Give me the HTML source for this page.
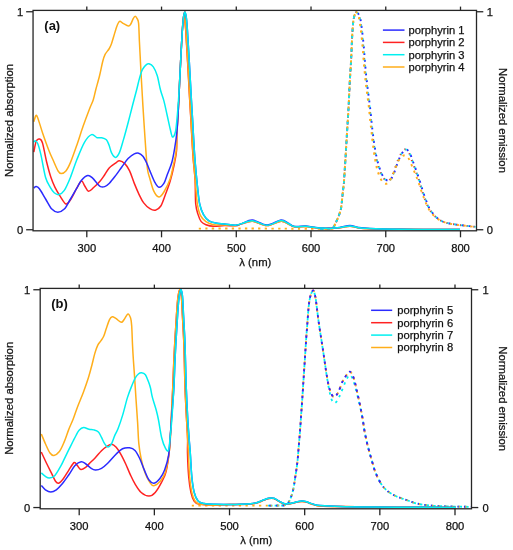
<!DOCTYPE html>
<html><head><meta charset="utf-8"><style>
html,body{margin:0;padding:0;background:#fff;}
svg{display:block;}
.t{font-family:"Liberation Sans",Arial,sans-serif;font-size:11.2px;fill:#111;stroke:#111;stroke-width:0.25px;}
.tt{font-family:"Liberation Sans",Arial,sans-serif;font-size:11.3px;fill:#111;stroke:#111;stroke-width:0.25px;}
.tb{font-family:"Liberation Sans",Arial,sans-serif;font-size:13px;font-weight:bold;fill:#111;}
</style></head><body>
<svg width="513" height="550" viewBox="0 0 513 550">
<defs><clipPath id="c0"><rect x="0.0" y="0.0" width="356.0" height="280.0"/></clipPath><clipPath id="c1"><rect x="0.0" y="0.0" width="356.0" height="280.0"/></clipPath><clipPath id="c2"><rect x="0.0" y="0.0" width="356.0" height="280.0"/></clipPath><clipPath id="c3"><rect x="0.0" y="0.0" width="356.0" height="280.0"/></clipPath><clipPath id="c4"><rect x="356.0" y="0.0" width="157.0" height="280.0"/></clipPath><clipPath id="c5"><rect x="356.0" y="0.0" width="157.0" height="280.0"/></clipPath><clipPath id="c6"><rect x="356.0" y="0.0" width="157.0" height="280.0"/></clipPath><clipPath id="c7"><rect x="356.0" y="0.0" width="157.0" height="280.0"/></clipPath><clipPath id="c8"><rect x="0.0" y="280.0" width="513.0" height="203.0"/></clipPath><clipPath id="c9"><rect x="0.0" y="280.0" width="513.0" height="203.0"/></clipPath><clipPath id="c10"><rect x="0.0" y="280.0" width="513.0" height="203.0"/></clipPath><clipPath id="c11"><rect x="0.0" y="280.0" width="513.0" height="203.0"/></clipPath><clipPath id="c12"><rect x="0.0" y="483.0" width="513.0" height="67.0"/></clipPath><clipPath id="c13"><rect x="0.0" y="483.0" width="513.0" height="67.0"/></clipPath><clipPath id="c14"><rect x="0.0" y="483.0" width="513.0" height="67.0"/></clipPath></defs>
<rect width="513" height="550" fill="#fff"/>
<path d="M318.00,228.70 C320.00,228.70 327.70,228.73 330.00,228.70 C332.30,228.67 331.22,228.73 331.80,228.50 C332.38,228.27 332.75,228.45 333.50,227.30 C334.25,226.15 335.37,223.65 336.30,221.60 C337.23,219.55 338.32,217.20 339.10,215.00 C339.88,212.80 340.50,210.98 341.00,208.40 C341.50,205.82 341.78,202.33 342.10,199.50 C342.42,196.67 342.60,194.18 342.90,191.40 C343.20,188.62 343.62,186.03 343.90,182.80 C344.18,179.57 344.33,176.10 344.60,172.00 C344.87,167.90 345.20,163.03 345.50,158.20 C345.80,153.37 346.10,148.03 346.40,143.00 C346.70,137.97 346.93,134.03 347.30,128.00 C347.67,121.97 348.20,114.23 348.60,106.80 C349.00,99.37 349.28,91.20 349.70,83.40 C350.12,75.60 350.68,67.90 351.10,60.00 C351.52,52.10 351.80,42.67 352.20,36.00 C352.60,29.33 352.87,23.95 353.50,20.00 C354.13,16.05 355.13,12.85 356.00,12.30 C356.87,11.75 357.93,14.02 358.70,16.70 C359.47,19.38 359.97,23.53 360.60,28.40 C361.23,33.27 362.00,40.63 362.50,45.90 C363.00,51.17 363.18,55.05 363.60,60.00 C364.02,64.95 364.47,70.40 365.00,75.60 C365.53,80.80 366.17,86.00 366.80,91.20 C367.43,96.40 368.20,101.60 368.80,106.80 C369.40,112.00 369.93,118.03 370.40,122.40 C370.87,126.77 371.12,129.13 371.60,133.00 C372.08,136.87 372.63,141.42 373.30,145.60 C373.97,149.78 374.70,154.20 375.60,158.10 C376.50,162.00 377.53,165.75 378.70,169.00 C379.87,172.25 381.08,175.65 382.60,177.60 C384.12,179.55 386.23,181.10 387.80,180.70 C389.37,180.30 390.65,177.93 392.00,175.20 C393.35,172.47 394.60,167.67 395.90,164.30 C397.20,160.93 398.38,157.47 399.80,155.00 C401.22,152.53 402.98,149.90 404.40,149.50 C405.82,149.10 407.00,150.40 408.30,152.60 C409.60,154.80 410.90,159.18 412.20,162.70 C413.50,166.22 415.03,170.65 416.10,173.70 C417.17,176.75 417.78,178.45 418.60,181.00 C419.42,183.55 420.18,186.42 421.00,189.00 C421.82,191.58 422.67,194.17 423.50,196.50 C424.33,198.83 425.12,200.92 426.00,203.00 C426.88,205.08 427.42,206.85 428.80,209.00 C430.18,211.15 432.35,213.98 434.30,215.90 C436.25,217.82 438.42,219.33 440.50,220.50 C442.58,221.67 444.20,222.22 446.80,222.90 C449.40,223.58 452.98,224.13 456.10,224.60 C459.22,225.07 462.25,225.32 465.50,225.70 C468.75,226.08 473.92,226.70 475.60,226.90" fill="none" stroke="#2b2bff" stroke-width="1.90" stroke-dasharray="2.0 4.6" stroke-dashoffset="-3.40" clip-path="url(#c0)"/>
<path d="M318.00,228.70 C320.00,228.70 327.70,228.73 330.00,228.70 C332.30,228.67 331.22,228.73 331.80,228.50 C332.38,228.27 332.75,228.45 333.50,227.30 C334.25,226.15 335.37,223.65 336.30,221.60 C337.23,219.55 338.32,217.20 339.10,215.00 C339.88,212.80 340.50,210.98 341.00,208.40 C341.50,205.82 341.78,202.33 342.10,199.50 C342.42,196.67 342.60,194.18 342.90,191.40 C343.20,188.62 343.62,186.03 343.90,182.80 C344.18,179.57 344.33,176.10 344.60,172.00 C344.87,167.90 345.20,163.03 345.50,158.20 C345.80,153.37 346.10,148.03 346.40,143.00 C346.70,137.97 346.93,134.03 347.30,128.00 C347.67,121.97 348.20,114.23 348.60,106.80 C349.00,99.37 349.28,91.20 349.70,83.40 C350.12,75.60 350.68,67.90 351.10,60.00 C351.52,52.10 351.80,42.67 352.20,36.00 C352.60,29.33 352.87,23.95 353.50,20.00 C354.13,16.05 355.13,12.85 356.00,12.30 C356.87,11.75 357.93,14.02 358.70,16.70 C359.47,19.38 359.97,23.53 360.60,28.40 C361.23,33.27 362.00,40.63 362.50,45.90 C363.00,51.17 363.18,55.05 363.60,60.00 C364.02,64.95 364.47,70.40 365.00,75.60 C365.53,80.80 366.17,86.00 366.80,91.20 C367.43,96.40 368.20,101.60 368.80,106.80 C369.40,112.00 369.93,118.03 370.40,122.40 C370.87,126.77 371.12,129.13 371.60,133.00 C372.08,136.87 372.63,141.42 373.30,145.60 C373.97,149.78 374.70,154.20 375.60,158.10 C376.50,162.00 377.53,165.75 378.70,169.00 C379.87,172.25 381.08,175.65 382.60,177.60 C384.12,179.55 386.23,181.10 387.80,180.70 C389.37,180.30 390.65,177.93 392.00,175.20 C393.35,172.47 394.60,167.67 395.90,164.30 C397.20,160.93 398.38,157.47 399.80,155.00 C401.22,152.53 402.98,149.90 404.40,149.50 C405.82,149.10 407.00,150.40 408.30,152.60 C409.60,154.80 410.90,159.18 412.20,162.70 C413.50,166.22 415.03,170.65 416.10,173.70 C417.17,176.75 417.78,178.45 418.60,181.00 C419.42,183.55 420.18,186.42 421.00,189.00 C421.82,191.58 422.67,194.17 423.50,196.50 C424.33,198.83 425.12,200.92 426.00,203.00 C426.88,205.08 427.42,206.85 428.80,209.00 C430.18,211.15 432.35,213.98 434.30,215.90 C436.25,217.82 438.42,219.33 440.50,220.50 C442.58,221.67 444.20,222.22 446.80,222.90 C449.40,223.58 452.98,224.13 456.10,224.60 C459.22,225.07 462.25,225.32 465.50,225.70 C468.75,226.08 473.92,226.70 475.60,226.90" fill="none" stroke="#ff2222" stroke-width="1.90" stroke-dasharray="2.0 4.6" stroke-dashoffset="-1.80" clip-path="url(#c1)"/>
<path d="M318.00,228.70 C320.00,228.70 327.70,228.73 330.00,228.70 C332.30,228.67 331.22,228.73 331.80,228.50 C332.38,228.27 332.75,228.45 333.50,227.30 C334.25,226.15 335.37,223.65 336.30,221.60 C337.23,219.55 338.32,217.20 339.10,215.00 C339.88,212.80 340.50,210.98 341.00,208.40 C341.50,205.82 341.78,202.33 342.10,199.50 C342.42,196.67 342.60,194.18 342.90,191.40 C343.20,188.62 343.62,186.03 343.90,182.80 C344.18,179.57 344.33,176.10 344.60,172.00 C344.87,167.90 345.20,163.03 345.50,158.20 C345.80,153.37 346.10,148.03 346.40,143.00 C346.70,137.97 346.93,134.03 347.30,128.00 C347.67,121.97 348.20,114.23 348.60,106.80 C349.00,99.37 349.28,91.20 349.70,83.40 C350.12,75.60 350.68,67.90 351.10,60.00 C351.52,52.10 351.80,42.67 352.20,36.00 C352.60,29.33 352.87,23.95 353.50,20.00 C354.13,16.05 355.13,12.85 356.00,12.30 C356.87,11.75 357.93,14.02 358.70,16.70 C359.47,19.38 359.97,23.53 360.60,28.40 C361.23,33.27 362.00,40.63 362.50,45.90 C363.00,51.17 363.18,55.05 363.60,60.00 C364.02,64.95 364.47,70.40 365.00,75.60 C365.53,80.80 366.17,86.00 366.80,91.20 C367.43,96.40 368.20,101.60 368.80,106.80 C369.40,112.00 369.93,118.03 370.40,122.40 C370.87,126.77 371.12,129.13 371.60,133.00 C372.08,136.87 372.63,141.42 373.30,145.60 C373.97,149.78 374.70,154.20 375.60,158.10 C376.50,162.00 377.53,165.75 378.70,169.00 C379.87,172.25 381.08,175.65 382.60,177.60 C384.12,179.55 386.23,181.10 387.80,180.70 C389.37,180.30 390.65,177.93 392.00,175.20 C393.35,172.47 394.60,167.67 395.90,164.30 C397.20,160.93 398.38,157.47 399.80,155.00 C401.22,152.53 402.98,149.90 404.40,149.50 C405.82,149.10 407.00,150.40 408.30,152.60 C409.60,154.80 410.90,159.18 412.20,162.70 C413.50,166.22 415.03,170.65 416.10,173.70 C417.17,176.75 417.78,178.45 418.60,181.00 C419.42,183.55 420.18,186.42 421.00,189.00 C421.82,191.58 422.67,194.17 423.50,196.50 C424.33,198.83 425.12,200.92 426.00,203.00 C426.88,205.08 427.42,206.85 428.80,209.00 C430.18,211.15 432.35,213.98 434.30,215.90 C436.25,217.82 438.42,219.33 440.50,220.50 C442.58,221.67 444.20,222.22 446.80,222.90 C449.40,223.58 452.98,224.13 456.10,224.60 C459.22,225.07 462.25,225.32 465.50,225.70 C468.75,226.08 473.92,226.70 475.60,226.90" fill="none" stroke="#00f0f0" stroke-width="1.90" stroke-dasharray="3.8 2.8" stroke-dashoffset="-2.10" clip-path="url(#c2)"/>
<path d="M198.80,228.60 C205.67,228.58 223.13,228.48 240.00,228.50 C256.87,228.52 285.00,228.67 300.00,228.70 C315.00,228.73 324.70,228.73 330.00,228.70 C335.30,228.67 331.22,228.73 331.80,228.50 C332.38,228.27 332.75,228.45 333.50,227.30 C334.25,226.15 335.37,223.65 336.30,221.60 C337.23,219.55 338.32,217.20 339.10,215.00 C339.88,212.80 340.50,210.98 341.00,208.40 C341.50,205.82 341.78,202.33 342.10,199.50 C342.42,196.67 342.60,194.18 342.90,191.40 C343.20,188.62 343.62,186.03 343.90,182.80 C344.18,179.57 344.33,176.10 344.60,172.00 C344.87,167.90 345.20,163.03 345.50,158.20 C345.80,153.37 346.10,148.03 346.40,143.00 C346.70,137.97 346.93,134.03 347.30,128.00 C347.67,121.97 348.20,114.23 348.60,106.80 C349.00,99.37 349.28,91.20 349.70,83.40 C350.12,75.60 350.68,67.90 351.10,60.00 C351.52,52.10 351.80,42.67 352.20,36.00 C352.60,29.33 352.87,23.95 353.50,20.00 C354.13,16.05 355.13,12.85 356.00,12.30 C356.87,11.75 357.93,14.02 358.70,16.70 C359.47,19.38 359.97,23.53 360.60,28.40 C361.23,33.27 362.00,40.63 362.50,45.90 C363.00,51.17 363.18,55.05 363.60,60.00 C364.02,64.95 364.47,70.40 365.00,75.60 C365.53,80.80 366.17,86.00 366.80,91.20 C367.43,96.40 368.20,101.60 368.80,106.80 C369.40,112.00 369.93,118.03 370.40,122.40 C370.87,126.77 371.15,129.07 371.60,133.00 C372.05,136.93 372.53,141.67 373.10,146.00 C373.67,150.33 374.27,154.92 375.00,159.00 C375.73,163.08 376.50,167.08 377.50,170.50 C378.50,173.92 379.67,177.28 381.00,179.50 C382.33,181.72 384.00,183.63 385.50,183.80 C387.00,183.97 388.50,182.72 390.00,180.50 C391.50,178.28 393.00,173.92 394.50,170.50 C396.00,167.08 397.47,162.50 399.00,160.00 C400.53,157.50 402.15,155.83 403.70,155.50 C405.25,155.17 406.88,156.17 408.30,158.00 C409.72,159.83 410.90,163.50 412.20,166.50 C413.50,169.50 415.03,173.33 416.10,176.00 C417.17,178.67 417.78,180.17 418.60,182.50 C419.42,184.83 420.18,187.58 421.00,190.00 C421.82,192.42 422.67,194.78 423.50,197.00 C424.33,199.22 425.12,201.27 426.00,203.30 C426.88,205.33 427.42,207.08 428.80,209.20 C430.18,211.32 432.35,214.10 434.30,216.00 C436.25,217.90 438.42,219.43 440.50,220.60 C442.58,221.77 444.20,222.32 446.80,223.00 C449.40,223.68 452.98,224.23 456.10,224.70 C459.22,225.17 462.25,225.42 465.50,225.80 C468.75,226.18 473.92,226.80 475.60,227.00" fill="none" stroke="#ffae1a" stroke-width="1.90" stroke-dasharray="2.3 4.3" stroke-dashoffset="0.00" clip-path="url(#c3)"/>
<path d="M318.00,228.70 C320.00,228.70 327.70,228.73 330.00,228.70 C332.30,228.67 331.22,228.73 331.80,228.50 C332.38,228.27 332.75,228.45 333.50,227.30 C334.25,226.15 335.37,223.65 336.30,221.60 C337.23,219.55 338.32,217.20 339.10,215.00 C339.88,212.80 340.50,210.98 341.00,208.40 C341.50,205.82 341.78,202.33 342.10,199.50 C342.42,196.67 342.60,194.18 342.90,191.40 C343.20,188.62 343.62,186.03 343.90,182.80 C344.18,179.57 344.33,176.10 344.60,172.00 C344.87,167.90 345.20,163.03 345.50,158.20 C345.80,153.37 346.10,148.03 346.40,143.00 C346.70,137.97 346.93,134.03 347.30,128.00 C347.67,121.97 348.20,114.23 348.60,106.80 C349.00,99.37 349.28,91.20 349.70,83.40 C350.12,75.60 350.68,67.90 351.10,60.00 C351.52,52.10 351.80,42.67 352.20,36.00 C352.60,29.33 352.87,23.95 353.50,20.00 C354.13,16.05 354.96,12.85 356.00,12.30 C357.04,11.75 358.79,14.02 359.76,16.70 C360.72,19.38 361.14,23.53 361.80,28.40 C362.46,33.27 363.20,40.63 363.70,45.90 C364.20,51.17 364.38,55.05 364.80,60.00 C365.22,64.95 365.67,70.40 366.20,75.60 C366.73,80.80 367.37,86.00 368.00,91.20 C368.63,96.40 369.40,101.60 370.00,106.80 C370.60,112.00 371.13,118.03 371.60,122.40 C372.07,126.77 372.32,129.13 372.80,133.00 C373.28,136.87 373.83,141.42 374.50,145.60 C375.17,149.78 375.90,154.20 376.80,158.10 C377.70,162.00 378.73,165.75 379.90,169.00 C381.07,172.25 382.28,175.65 383.80,177.60 C385.32,179.55 387.43,181.10 389.00,180.70 C390.57,180.30 391.85,177.93 393.20,175.20 C394.55,172.47 395.80,167.67 397.10,164.30 C398.40,160.93 399.58,157.47 401.00,155.00 C402.42,152.53 404.18,149.90 405.60,149.50 C407.02,149.10 408.20,150.40 409.50,152.60 C410.80,154.80 412.10,159.18 413.40,162.70 C414.70,166.22 416.23,170.65 417.30,173.70 C418.37,176.75 418.98,178.45 419.80,181.00 C420.62,183.55 421.38,186.42 422.20,189.00 C423.02,191.58 423.88,194.17 424.70,196.50 C425.52,198.83 426.29,200.92 427.14,203.00 C427.99,205.08 428.47,206.85 429.77,209.00 C431.07,211.15 433.11,213.98 434.94,215.90 C436.77,217.82 438.79,219.33 440.77,220.50 C442.75,221.67 444.25,222.22 446.80,222.90 C449.36,223.58 452.98,224.13 456.10,224.60 C459.22,225.07 462.25,225.32 465.50,225.70 C468.75,226.08 473.92,226.70 475.60,226.90" fill="none" stroke="#2b2bff" stroke-width="1.90" stroke-dasharray="2.0 4.8" stroke-dashoffset="-4.30" clip-path="url(#c4)"/>
<path d="M318.00,228.70 C320.00,228.70 327.70,228.73 330.00,228.70 C332.30,228.67 331.22,228.73 331.80,228.50 C332.38,228.27 332.75,228.45 333.50,227.30 C334.25,226.15 335.37,223.65 336.30,221.60 C337.23,219.55 338.32,217.20 339.10,215.00 C339.88,212.80 340.50,210.98 341.00,208.40 C341.50,205.82 341.78,202.33 342.10,199.50 C342.42,196.67 342.60,194.18 342.90,191.40 C343.20,188.62 343.62,186.03 343.90,182.80 C344.18,179.57 344.33,176.10 344.60,172.00 C344.87,167.90 345.20,163.03 345.50,158.20 C345.80,153.37 346.10,148.03 346.40,143.00 C346.70,137.97 346.93,134.03 347.30,128.00 C347.67,121.97 348.20,114.23 348.60,106.80 C349.00,99.37 349.28,91.20 349.70,83.40 C350.12,75.60 350.68,67.90 351.10,60.00 C351.52,52.10 351.80,42.67 352.20,36.00 C352.60,29.33 352.87,23.95 353.50,20.00 C354.13,16.05 355.02,12.85 356.00,12.30 C356.98,11.75 358.50,14.02 359.40,16.70 C360.30,19.38 360.75,23.53 361.40,28.40 C362.05,33.27 362.80,40.63 363.30,45.90 C363.80,51.17 363.98,55.05 364.40,60.00 C364.82,64.95 365.27,70.40 365.80,75.60 C366.33,80.80 366.97,86.00 367.60,91.20 C368.23,96.40 369.00,101.60 369.60,106.80 C370.20,112.00 370.73,118.03 371.20,122.40 C371.67,126.77 371.92,129.13 372.40,133.00 C372.88,136.87 373.43,141.42 374.10,145.60 C374.77,149.78 375.50,154.20 376.40,158.10 C377.30,162.00 378.33,165.75 379.50,169.00 C380.67,172.25 381.88,175.65 383.40,177.60 C384.92,179.55 387.03,181.10 388.60,180.70 C390.17,180.30 391.45,177.93 392.80,175.20 C394.15,172.47 395.40,167.67 396.70,164.30 C398.00,160.93 399.18,157.47 400.60,155.00 C402.02,152.53 403.78,149.90 405.20,149.50 C406.62,149.10 407.80,150.40 409.10,152.60 C410.40,154.80 411.70,159.18 413.00,162.70 C414.30,166.22 415.83,170.65 416.90,173.70 C417.97,176.75 418.58,178.45 419.40,181.00 C420.22,183.55 420.98,186.42 421.80,189.00 C422.62,191.58 423.47,194.17 424.30,196.50 C425.13,198.83 425.90,200.92 426.76,203.00 C427.62,205.08 428.12,206.85 429.45,209.00 C430.78,211.15 432.86,213.98 434.73,215.90 C436.60,217.82 438.67,219.33 440.68,220.50 C442.69,221.67 444.23,222.22 446.80,222.90 C449.37,223.58 452.98,224.13 456.10,224.60 C459.22,225.07 462.25,225.32 465.50,225.70 C468.75,226.08 473.92,226.70 475.60,226.90" fill="none" stroke="#00f0f0" stroke-width="1.90" stroke-dasharray="2.2 4.6" stroke-dashoffset="-2.30" clip-path="url(#c5)"/>
<path d="M318.00,228.70 C320.00,228.70 327.70,228.73 330.00,228.70 C332.30,228.67 331.22,228.73 331.80,228.50 C332.38,228.27 332.75,228.45 333.50,227.30 C334.25,226.15 335.37,223.65 336.30,221.60 C337.23,219.55 338.32,217.20 339.10,215.00 C339.88,212.80 340.50,210.98 341.00,208.40 C341.50,205.82 341.78,202.33 342.10,199.50 C342.42,196.67 342.60,194.18 342.90,191.40 C343.20,188.62 343.62,186.03 343.90,182.80 C344.18,179.57 344.33,176.10 344.60,172.00 C344.87,167.90 345.20,163.03 345.50,158.20 C345.80,153.37 346.10,148.03 346.40,143.00 C346.70,137.97 346.93,134.03 347.30,128.00 C347.67,121.97 348.20,114.23 348.60,106.80 C349.00,99.37 349.28,91.20 349.70,83.40 C350.12,75.60 350.68,67.90 351.10,60.00 C351.52,52.10 351.80,42.67 352.20,36.00 C352.60,29.33 352.87,23.95 353.50,20.00 C354.13,16.05 355.07,12.85 356.00,12.30 C356.93,11.75 358.22,14.02 359.05,16.70 C359.89,19.38 360.36,23.53 361.00,28.40 C361.64,33.27 362.40,40.63 362.90,45.90 C363.40,51.17 363.58,55.05 364.00,60.00 C364.42,64.95 364.87,70.40 365.40,75.60 C365.93,80.80 366.57,86.00 367.20,91.20 C367.83,96.40 368.60,101.60 369.20,106.80 C369.80,112.00 370.33,118.03 370.80,122.40 C371.27,126.77 371.52,129.13 372.00,133.00 C372.48,136.87 373.03,141.42 373.70,145.60 C374.37,149.78 375.10,154.20 376.00,158.10 C376.90,162.00 377.93,165.75 379.10,169.00 C380.27,172.25 381.48,175.65 383.00,177.60 C384.52,179.55 386.63,181.10 388.20,180.70 C389.77,180.30 391.05,177.93 392.40,175.20 C393.75,172.47 395.00,167.67 396.30,164.30 C397.60,160.93 398.78,157.47 400.20,155.00 C401.62,152.53 403.38,149.90 404.80,149.50 C406.22,149.10 407.40,150.40 408.70,152.60 C410.00,154.80 411.30,159.18 412.60,162.70 C413.90,166.22 415.43,170.65 416.50,173.70 C417.57,176.75 418.18,178.45 419.00,181.00 C419.82,183.55 420.58,186.42 421.40,189.00 C422.22,191.58 423.07,194.17 423.90,196.50 C424.73,198.83 425.51,200.92 426.38,203.00 C427.25,205.08 427.77,206.85 429.12,209.00 C430.48,211.15 432.60,213.98 434.51,215.90 C436.43,217.82 438.54,219.33 440.59,220.50 C442.64,221.67 444.22,222.22 446.80,222.90 C449.38,223.58 452.98,224.13 456.10,224.60 C459.22,225.07 462.25,225.32 465.50,225.70 C468.75,226.08 473.92,226.70 475.60,226.90" fill="none" stroke="#ff2222" stroke-width="1.90" stroke-dasharray="0.9 5.9" stroke-dashoffset="-2.20" clip-path="url(#c6)"/>
<path d="M198.80,228.60 C205.67,228.58 223.13,228.48 240.00,228.50 C256.87,228.52 285.00,228.67 300.00,228.70 C315.00,228.73 324.70,228.73 330.00,228.70 C335.30,228.67 331.22,228.73 331.80,228.50 C332.38,228.27 332.75,228.45 333.50,227.30 C334.25,226.15 335.37,223.65 336.30,221.60 C337.23,219.55 338.32,217.20 339.10,215.00 C339.88,212.80 340.50,210.98 341.00,208.40 C341.50,205.82 341.78,202.33 342.10,199.50 C342.42,196.67 342.60,194.18 342.90,191.40 C343.20,188.62 343.62,186.03 343.90,182.80 C344.18,179.57 344.33,176.10 344.60,172.00 C344.87,167.90 345.20,163.03 345.50,158.20 C345.80,153.37 346.10,148.03 346.40,143.00 C346.70,137.97 346.93,134.03 347.30,128.00 C347.67,121.97 348.20,114.23 348.60,106.80 C349.00,99.37 349.28,91.20 349.70,83.40 C350.12,75.60 350.68,67.90 351.10,60.00 C351.52,52.10 351.80,42.67 352.20,36.00 C352.60,29.33 352.87,23.95 353.50,20.00 C354.13,16.05 355.13,12.85 356.00,12.30 C356.87,11.75 357.93,14.02 358.70,16.70 C359.47,19.38 359.97,23.53 360.60,28.40 C361.23,33.27 362.00,40.63 362.50,45.90 C363.00,51.17 363.18,55.05 363.60,60.00 C364.02,64.95 364.47,70.40 365.00,75.60 C365.53,80.80 366.17,86.00 366.80,91.20 C367.43,96.40 368.20,101.60 368.80,106.80 C369.40,112.00 369.93,118.03 370.40,122.40 C370.87,126.77 371.15,129.07 371.60,133.00 C372.05,136.93 372.53,141.67 373.10,146.00 C373.67,150.33 374.27,154.92 375.00,159.00 C375.73,163.08 376.50,167.08 377.50,170.50 C378.50,173.92 379.67,177.28 381.00,179.50 C382.33,181.72 384.00,183.63 385.50,183.80 C387.00,183.97 388.50,182.72 390.00,180.50 C391.50,178.28 393.00,173.92 394.50,170.50 C396.00,167.08 397.47,162.50 399.00,160.00 C400.53,157.50 402.15,155.83 403.70,155.50 C405.25,155.17 406.88,156.17 408.30,158.00 C409.72,159.83 410.90,163.50 412.20,166.50 C413.50,169.50 415.03,173.33 416.10,176.00 C417.17,178.67 417.78,180.17 418.60,182.50 C419.42,184.83 420.18,187.58 421.00,190.00 C421.82,192.42 422.67,194.78 423.50,197.00 C424.33,199.22 425.12,201.27 426.00,203.30 C426.88,205.33 427.42,207.08 428.80,209.20 C430.18,211.32 432.35,214.10 434.30,216.00 C436.25,217.90 438.42,219.43 440.50,220.60 C442.58,221.77 444.20,222.32 446.80,223.00 C449.40,223.68 452.98,224.23 456.10,224.70 C459.22,225.17 462.25,225.42 465.50,225.80 C468.75,226.18 473.92,226.80 475.60,227.00" fill="none" stroke="#ffae1a" stroke-width="1.90" stroke-dasharray="2.3 4.5" stroke-dashoffset="0.00" clip-path="url(#c7)"/>
<path d="M33.80,152.20 C34.20,150.38 35.27,143.50 36.20,141.30 C37.13,139.10 38.35,138.73 39.40,139.00 C40.45,139.27 41.33,139.23 42.50,142.90 C43.67,146.57 45.02,155.32 46.40,161.00 C47.78,166.68 49.37,172.62 50.80,177.00 C52.23,181.38 53.40,184.03 55.00,187.30 C56.60,190.57 58.58,193.82 60.40,196.60 C62.22,199.38 64.22,203.47 65.90,204.00 C67.58,204.53 68.68,202.45 70.50,199.80 C72.32,197.15 74.97,191.23 76.80,188.10 C78.63,184.97 80.20,181.40 81.50,181.00 C82.80,180.60 83.43,184.00 84.60,185.70 C85.77,187.40 86.95,190.93 88.50,191.20 C90.05,191.47 91.95,189.00 93.90,187.30 C95.85,185.60 98.40,183.08 100.20,181.00 C102.00,178.92 103.17,177.00 104.70,174.80 C106.23,172.60 107.58,169.75 109.40,167.80 C111.22,165.85 113.92,164.27 115.60,163.10 C117.28,161.93 117.93,160.67 119.50,160.80 C121.07,160.93 123.32,162.22 125.00,163.90 C126.68,165.58 128.05,167.65 129.60,170.90 C131.15,174.15 132.73,179.50 134.30,183.40 C135.87,187.30 137.43,191.05 139.00,194.30 C140.57,197.55 141.88,200.50 143.70,202.90 C145.52,205.30 147.95,207.48 149.90,208.70 C151.85,209.92 153.58,210.65 155.40,210.20 C157.22,209.75 159.12,208.65 160.80,206.00 C162.48,203.35 163.93,198.47 165.50,194.30 C167.07,190.13 168.78,185.80 170.20,181.00 C171.62,176.20 172.95,170.50 174.00,165.50 C175.05,160.50 176.02,156.58 176.50,151.00 C176.98,145.42 176.67,137.58 176.90,132.00 C177.13,126.42 177.58,122.83 177.90,117.50 C178.22,112.17 178.50,106.25 178.80,100.00 C179.10,93.75 179.40,86.33 179.70,80.00 C180.00,73.67 180.30,67.83 180.60,62.00 C180.90,56.17 181.22,50.17 181.50,45.00 C181.78,39.83 182.02,35.17 182.30,31.00 C182.58,26.83 182.92,22.75 183.20,20.00 C183.48,17.25 183.72,15.85 184.00,14.50 C184.28,13.15 184.69,11.90 184.90,11.90 C185.11,11.90 185.27,13.15 185.27,14.50 C185.27,15.85 184.83,17.42 184.90,20.00 C184.97,22.58 185.42,25.83 185.70,30.00 C185.98,34.17 186.28,39.67 186.60,45.00 C186.92,50.33 187.27,56.17 187.60,62.00 C187.93,67.83 188.25,73.67 188.60,80.00 C188.95,86.33 189.32,93.33 189.70,100.00 C190.08,106.67 190.52,113.33 190.90,120.00 C191.28,126.67 191.60,133.33 192.00,140.00 C192.40,146.67 192.78,153.33 193.30,160.00 C193.82,166.67 194.70,172.72 195.10,180.00 C195.50,187.28 195.20,197.93 195.70,203.70 C196.20,209.47 197.18,211.62 198.10,214.60 C199.02,217.58 199.90,219.92 201.20,221.60 C202.50,223.28 203.82,223.92 205.90,224.70 C207.98,225.48 210.58,226.17 213.70,226.30 C216.82,226.43 220.97,225.58 224.60,225.50 C228.23,225.42 232.65,226.07 235.50,225.80 C238.35,225.53 238.88,224.67 241.70,223.90 C244.52,223.13 248.18,220.92 252.40,221.20 C256.62,221.48 262.23,225.60 267.00,225.60 C271.77,225.60 277.45,221.47 281.00,221.20 C284.55,220.93 286.03,223.07 288.30,224.00 C290.57,224.93 291.72,226.37 294.60,226.80 C297.48,227.23 302.47,226.48 305.60,226.60 C308.73,226.72 310.80,227.22 313.40,227.50 C316.00,227.78 318.35,228.12 321.20,228.30 C324.05,228.48 327.38,228.68 330.50,228.60 C333.62,228.52 336.65,228.20 339.90,227.80 C343.15,227.40 346.88,226.18 350.00,226.20 C353.12,226.22 355.27,227.48 358.60,227.90 C361.93,228.32 363.10,228.47 370.00,228.70 C376.90,228.93 390.00,229.17 400.00,229.30 C410.00,229.43 420.00,229.45 430.00,229.50 C440.00,229.55 455.00,229.58 460.00,229.60" fill="none" stroke="#ff2222" stroke-width="1.50" stroke-linejoin="round"/>
<path d="M33.80,121.80 C34.15,120.77 35.23,116.25 35.90,115.60 C36.57,114.95 36.70,115.05 37.80,117.90 C38.90,120.75 40.68,127.37 42.50,132.70 C44.32,138.03 46.88,145.22 48.70,149.90 C50.52,154.58 51.83,157.28 53.40,160.80 C54.97,164.32 56.80,168.87 58.10,171.00 C59.40,173.13 59.90,173.60 61.20,173.60 C62.50,173.60 64.35,172.87 65.90,171.00 C67.45,169.13 68.68,166.70 70.50,162.40 C72.32,158.10 74.72,151.18 76.80,145.20 C78.88,139.22 80.92,132.47 83.00,126.50 C85.08,120.53 87.60,113.82 89.30,109.40 C91.00,104.98 92.13,103.23 93.20,100.00 C94.27,96.77 94.63,94.08 95.70,90.00 C96.77,85.92 98.43,80.25 99.60,75.50 C100.77,70.75 101.78,65.02 102.70,61.50 C103.62,57.98 104.05,56.48 105.10,54.40 C106.15,52.32 107.97,50.68 109.00,49.00 C110.03,47.32 110.52,46.38 111.30,44.30 C112.08,42.22 112.78,39.48 113.70,36.50 C114.62,33.52 115.82,28.92 116.80,26.40 C117.78,23.88 118.57,21.92 119.60,21.40 C120.63,20.88 121.52,22.52 123.00,23.30 C124.48,24.08 127.20,25.98 128.50,26.10 C129.80,26.22 130.02,25.25 130.80,24.00 C131.58,22.75 132.47,19.90 133.20,18.60 C133.93,17.30 134.55,16.20 135.20,16.20 C135.85,16.20 136.53,17.42 137.10,18.60 C137.67,19.78 138.22,19.53 138.60,23.30 C138.98,27.07 139.13,35.62 139.40,41.20 C139.67,46.78 139.93,51.60 140.20,56.80 C140.47,62.00 140.70,66.87 141.00,72.40 C141.30,77.93 141.68,84.47 142.00,90.00 C142.32,95.53 142.50,99.10 142.90,105.60 C143.30,112.10 143.88,121.20 144.40,129.00 C144.92,136.80 145.47,145.57 146.00,152.40 C146.53,159.23 146.95,165.62 147.60,170.00 C148.25,174.38 148.87,175.17 149.90,178.70 C150.93,182.23 152.30,188.13 153.80,191.20 C155.30,194.27 157.22,196.97 158.90,197.10 C160.58,197.23 162.02,195.07 163.90,192.00 C165.78,188.93 168.63,183.12 170.20,178.70 C171.77,174.28 172.30,170.13 173.30,165.50 C174.30,160.87 175.60,156.48 176.20,150.90 C176.80,145.32 176.62,137.57 176.90,132.00 C177.18,126.43 177.58,122.83 177.90,117.50 C178.22,112.17 178.50,106.25 178.80,100.00 C179.10,93.75 179.40,86.33 179.70,80.00 C180.00,73.67 180.30,67.83 180.60,62.00 C180.90,56.17 181.22,50.17 181.50,45.00 C181.78,39.83 182.02,35.17 182.30,31.00 C182.58,26.83 182.92,22.75 183.20,20.00 C183.48,17.25 183.72,15.85 184.00,14.50 C184.28,13.15 184.68,11.90 184.90,11.90 C185.12,11.90 185.28,13.15 185.30,14.50 C185.32,15.85 184.92,17.42 185.00,20.00 C185.08,22.58 185.52,25.83 185.80,30.00 C186.08,34.17 186.38,39.67 186.70,45.00 C187.02,50.33 187.37,56.17 187.70,62.00 C188.03,67.83 188.35,73.67 188.70,80.00 C189.05,86.33 189.42,93.33 189.80,100.00 C190.18,106.67 190.62,113.33 191.00,120.00 C191.38,126.67 191.70,133.33 192.10,140.00 C192.50,146.67 192.88,153.33 193.40,160.00 C193.92,166.67 194.55,172.72 195.20,180.00 C195.85,187.28 196.43,197.80 197.30,203.70 C198.17,209.60 198.97,212.42 200.40,215.40 C201.83,218.38 203.68,220.05 205.90,221.60 C208.12,223.15 210.58,224.13 213.70,224.70 C216.82,225.27 220.97,224.85 224.60,225.00 C228.23,225.15 232.65,225.80 235.50,225.60 C238.35,225.40 238.88,224.53 241.70,223.80 C244.52,223.07 248.18,220.90 252.40,221.20 C256.62,221.50 262.23,225.60 267.00,225.60 C271.77,225.60 277.45,221.47 281.00,221.20 C284.55,220.93 286.03,223.07 288.30,224.00 C290.57,224.93 291.72,226.37 294.60,226.80 C297.48,227.23 302.47,226.48 305.60,226.60 C308.73,226.72 310.80,227.22 313.40,227.50 C316.00,227.78 318.35,228.12 321.20,228.30 C324.05,228.48 327.38,228.68 330.50,228.60 C333.62,228.52 336.65,228.20 339.90,227.80 C343.15,227.40 346.88,226.18 350.00,226.20 C353.12,226.22 355.27,227.48 358.60,227.90 C361.93,228.32 363.10,228.47 370.00,228.70 C376.90,228.93 390.00,229.17 400.00,229.30 C410.00,229.43 420.00,229.45 430.00,229.50 C440.00,229.55 455.00,229.58 460.00,229.60" fill="none" stroke="#ffae1a" stroke-width="1.50" stroke-linejoin="round"/>
<path d="M33.80,188.00 C34.20,187.75 35.27,186.37 36.20,186.50 C37.13,186.63 37.83,186.72 39.40,188.80 C40.97,190.88 43.53,195.62 45.60,199.00 C47.67,202.38 49.77,206.90 51.80,209.10 C53.83,211.30 55.72,212.20 57.80,212.20 C59.88,212.20 62.18,211.30 64.30,209.10 C66.42,206.90 68.42,202.50 70.50,199.00 C72.58,195.50 74.97,191.22 76.80,188.10 C78.63,184.98 79.68,182.38 81.50,180.30 C83.32,178.22 85.88,176.00 87.70,175.60 C89.52,175.20 90.83,176.60 92.40,177.90 C93.97,179.20 95.75,181.95 97.10,183.40 C98.45,184.85 99.23,186.07 100.50,186.60 C101.77,187.13 103.22,187.17 104.70,186.60 C106.18,186.03 107.58,185.03 109.40,183.20 C111.22,181.37 113.53,178.30 115.60,175.60 C117.67,172.90 119.72,169.83 121.80,167.00 C123.88,164.17 126.02,160.78 128.10,158.60 C130.18,156.42 132.53,154.80 134.30,153.90 C136.07,153.00 137.27,152.80 138.70,153.20 C140.13,153.60 141.55,154.62 142.90,156.30 C144.25,157.98 145.63,160.87 146.80,163.30 C147.97,165.73 148.60,167.82 149.90,170.90 C151.20,173.98 153.10,179.07 154.60,181.80 C156.10,184.53 157.35,187.03 158.90,187.30 C160.45,187.57 162.47,185.62 163.90,183.40 C165.33,181.18 166.18,177.48 167.50,174.00 C168.82,170.52 170.60,166.83 171.80,162.50 C173.00,158.17 173.85,153.08 174.70,148.00 C175.55,142.92 176.37,137.08 176.90,132.00 C177.43,126.92 177.58,122.83 177.90,117.50 C178.22,112.17 178.50,106.25 178.80,100.00 C179.10,93.75 179.40,86.33 179.70,80.00 C180.00,73.67 180.30,67.83 180.60,62.00 C180.90,56.17 181.22,50.17 181.50,45.00 C181.78,39.83 182.02,35.17 182.30,31.00 C182.58,26.83 182.92,22.75 183.20,20.00 C183.48,17.25 183.72,15.85 184.00,14.50 C184.28,13.15 184.60,11.90 184.90,11.90 C185.20,11.90 185.52,13.15 185.80,14.50 C186.08,15.85 186.33,17.42 186.60,20.00 C186.87,22.58 187.12,25.83 187.40,30.00 C187.68,34.17 187.98,39.67 188.30,45.00 C188.62,50.33 188.97,56.17 189.30,62.00 C189.63,67.83 189.95,73.67 190.30,80.00 C190.65,86.33 191.02,93.33 191.40,100.00 C191.78,106.67 192.22,113.33 192.60,120.00 C192.98,126.67 193.30,133.33 193.70,140.00 C194.10,146.67 194.48,153.33 195.00,160.00 C195.52,166.67 196.03,172.72 196.80,180.00 C197.57,187.28 198.48,197.93 199.60,203.70 C200.72,209.47 201.93,211.75 203.50,214.60 C205.07,217.45 206.78,219.37 209.00,220.80 C211.22,222.23 214.20,222.68 216.80,223.20 C219.40,223.72 221.48,223.57 224.60,223.90 C227.72,224.23 232.65,225.25 235.50,225.20 C238.35,225.15 238.88,224.45 241.70,223.60 C244.52,222.75 248.18,219.87 252.40,220.10 C256.62,220.33 262.23,225.03 267.00,225.00 C271.77,224.97 277.45,220.20 281.00,219.90 C284.55,219.60 286.03,222.10 288.30,223.20 C290.57,224.30 291.72,226.02 294.60,226.50 C297.48,226.98 302.47,225.98 305.60,226.10 C308.73,226.22 310.80,226.88 313.40,227.20 C316.00,227.52 318.35,227.82 321.20,228.00 C324.05,228.18 327.38,228.40 330.50,228.30 C333.62,228.20 336.65,227.87 339.90,227.40 C343.15,226.93 346.88,225.48 350.00,225.50 C353.12,225.52 355.27,227.00 358.60,227.50 C361.93,228.00 363.10,228.20 370.00,228.50 C376.90,228.80 390.00,229.13 400.00,229.30 C410.00,229.47 420.00,229.45 430.00,229.50 C440.00,229.55 455.00,229.58 460.00,229.60" fill="none" stroke="#2b2bff" stroke-width="1.50" stroke-linejoin="round"/>
<path d="M33.80,142.10 C34.08,141.90 34.83,140.63 35.50,140.90 C36.17,141.17 36.90,141.42 37.80,143.70 C38.70,145.98 39.60,148.97 40.90,154.60 C42.20,160.23 44.03,172.05 45.60,177.50 C47.17,182.95 48.87,184.77 50.30,187.30 C51.73,189.83 52.77,191.48 54.20,192.70 C55.63,193.92 57.22,194.98 58.90,194.60 C60.58,194.22 62.37,193.30 64.30,190.40 C66.23,187.50 68.42,182.30 70.50,177.20 C72.58,172.10 74.45,165.65 76.80,159.80 C79.15,153.95 82.13,146.30 84.60,142.10 C87.07,137.90 89.52,135.33 91.60,134.60 C93.68,133.87 95.42,137.18 97.10,137.70 C98.78,138.22 100.15,137.35 101.70,137.70 C103.25,138.05 105.18,138.58 106.40,139.80 C107.62,141.02 108.12,142.77 109.00,145.00 C109.88,147.23 110.60,151.13 111.70,153.20 C112.80,155.27 114.30,157.53 115.60,157.40 C116.90,157.27 118.20,155.32 119.50,152.40 C120.80,149.48 121.97,144.85 123.40,139.90 C124.83,134.95 126.55,128.55 128.10,122.70 C129.65,116.85 131.28,110.25 132.70,104.80 C134.12,99.35 135.48,94.37 136.60,90.00 C137.72,85.63 138.42,82.05 139.40,78.60 C140.38,75.15 141.33,71.63 142.50,69.30 C143.67,66.97 145.32,65.52 146.40,64.60 C147.48,63.68 147.85,63.42 149.00,63.80 C150.15,64.18 151.93,64.95 153.30,66.90 C154.67,68.85 156.00,71.65 157.20,75.50 C158.40,79.35 159.38,85.77 160.50,90.00 C161.62,94.23 162.80,96.73 163.90,100.90 C165.00,105.07 166.05,110.32 167.10,115.00 C168.15,119.68 169.30,125.33 170.20,129.00 C171.10,132.67 171.63,136.50 172.50,137.00 C173.37,137.50 174.63,135.25 175.40,132.00 C176.17,128.75 176.58,122.83 177.10,117.50 C177.62,112.17 178.07,106.25 178.50,100.00 C178.93,93.75 179.35,86.33 179.70,80.00 C180.05,73.67 180.30,67.83 180.60,62.00 C180.90,56.17 181.22,50.17 181.50,45.00 C181.78,39.83 182.02,35.17 182.30,31.00 C182.58,26.83 182.92,22.75 183.20,20.00 C183.48,17.25 183.72,15.85 184.00,14.50 C184.28,13.15 184.60,11.90 184.90,11.90 C185.20,11.90 185.52,13.15 185.80,14.50 C186.08,15.85 186.33,17.42 186.60,20.00 C186.87,22.58 187.12,25.83 187.40,30.00 C187.68,34.17 187.98,39.67 188.30,45.00 C188.62,50.33 188.97,56.17 189.30,62.00 C189.63,67.83 189.95,73.67 190.30,80.00 C190.65,86.33 191.02,93.33 191.40,100.00 C191.78,106.67 192.22,113.33 192.60,120.00 C192.98,126.67 193.30,133.33 193.70,140.00 C194.10,146.67 194.48,153.33 195.00,160.00 C195.52,166.67 196.03,172.72 196.80,180.00 C197.57,187.28 198.48,197.93 199.60,203.70 C200.72,209.47 201.93,211.75 203.50,214.60 C205.07,217.45 206.78,219.37 209.00,220.80 C211.22,222.23 214.20,222.68 216.80,223.20 C219.40,223.72 221.48,223.57 224.60,223.90 C227.72,224.23 232.65,225.25 235.50,225.20 C238.35,225.15 238.88,224.35 241.70,223.60 C244.52,222.85 248.18,220.42 252.40,220.70 C256.62,220.98 262.23,225.32 267.00,225.30 C271.77,225.28 277.45,220.90 281.00,220.60 C284.55,220.30 286.03,222.50 288.30,223.50 C290.57,224.50 291.72,226.13 294.60,226.60 C297.48,227.07 302.47,226.18 305.60,226.30 C308.73,226.42 310.80,227.00 313.40,227.30 C316.00,227.60 318.35,227.92 321.20,228.10 C324.05,228.28 327.38,228.48 330.50,228.40 C333.62,228.32 336.65,228.02 339.90,227.60 C343.15,227.18 346.88,225.88 350.00,225.90 C353.12,225.92 355.27,227.25 358.60,227.70 C361.93,228.15 363.10,228.33 370.00,228.60 C376.90,228.87 390.00,229.15 400.00,229.30 C410.00,229.45 420.00,229.45 430.00,229.50 C440.00,229.55 455.00,229.58 460.00,229.60" fill="none" stroke="#00f0f0" stroke-width="1.50" stroke-linejoin="round"/>
<rect x="33.05" y="10.40" width="443.45" height="220.40" fill="none" stroke="#262626" stroke-width="1.3"/>
<line x1="86.80" y1="230.80" x2="86.80" y2="237.30" stroke="#262626" stroke-width="1.3"/>
<line x1="86.80" y1="10.40" x2="86.80" y2="6.60" stroke="#262626" stroke-width="1.3"/>
<text x="86.80" y="251.80" text-anchor="middle" class="t">300</text>
<line x1="161.54" y1="230.80" x2="161.54" y2="237.30" stroke="#262626" stroke-width="1.3"/>
<line x1="161.54" y1="10.40" x2="161.54" y2="6.60" stroke="#262626" stroke-width="1.3"/>
<text x="161.54" y="251.80" text-anchor="middle" class="t">400</text>
<line x1="236.28" y1="230.80" x2="236.28" y2="237.30" stroke="#262626" stroke-width="1.3"/>
<line x1="236.28" y1="10.40" x2="236.28" y2="6.60" stroke="#262626" stroke-width="1.3"/>
<text x="236.28" y="251.80" text-anchor="middle" class="t">500</text>
<line x1="311.02" y1="230.80" x2="311.02" y2="237.30" stroke="#262626" stroke-width="1.3"/>
<line x1="311.02" y1="10.40" x2="311.02" y2="6.60" stroke="#262626" stroke-width="1.3"/>
<text x="311.02" y="251.80" text-anchor="middle" class="t">600</text>
<line x1="385.76" y1="230.80" x2="385.76" y2="237.30" stroke="#262626" stroke-width="1.3"/>
<line x1="385.76" y1="10.40" x2="385.76" y2="6.60" stroke="#262626" stroke-width="1.3"/>
<text x="385.76" y="251.80" text-anchor="middle" class="t">700</text>
<line x1="460.50" y1="230.80" x2="460.50" y2="237.30" stroke="#262626" stroke-width="1.3"/>
<line x1="460.50" y1="10.40" x2="460.50" y2="6.60" stroke="#262626" stroke-width="1.3"/>
<text x="460.50" y="251.80" text-anchor="middle" class="t">800</text>
<line x1="26.15" y1="229.75" x2="33.05" y2="229.75" stroke="#262626" stroke-width="1.3"/>
<line x1="476.50" y1="229.75" x2="483.30" y2="229.75" stroke="#262626" stroke-width="1.3"/>
<text x="23.30" y="233.75" text-anchor="end" class="t">0</text>
<text x="486.80" y="233.75" text-anchor="start" class="t">0</text>
<line x1="26.15" y1="11.75" x2="33.05" y2="11.75" stroke="#262626" stroke-width="1.3"/>
<line x1="476.50" y1="11.75" x2="483.30" y2="11.75" stroke="#262626" stroke-width="1.3"/>
<text x="23.30" y="15.75" text-anchor="end" class="t">1</text>
<text x="486.80" y="15.75" text-anchor="start" class="t">1</text>
<text x="239.30" y="265.50" class="tt">λ (nm)</text>
<text transform="translate(12.60,120.50) rotate(-90)" text-anchor="middle" class="tt">Normalized absorption</text>
<text transform="translate(499.00,120.50) rotate(90)" text-anchor="middle" class="tt">Normalized emission</text>
<text x="44.30" y="30.30" class="tb">(a)</text>
<line x1="382.90" y1="30.10" x2="404.50" y2="30.10" stroke="#2b2bff" stroke-width="1.5"/>
<text x="408.60" y="34.00" class="t">porphyrin 1</text>
<line x1="382.90" y1="42.40" x2="404.50" y2="42.40" stroke="#ff2222" stroke-width="1.5"/>
<text x="408.60" y="46.30" class="t">porphyrin 2</text>
<line x1="382.90" y1="54.70" x2="404.50" y2="54.70" stroke="#00f0f0" stroke-width="1.5"/>
<text x="408.60" y="58.60" class="t">porphyrin 3</text>
<line x1="382.90" y1="67.00" x2="404.50" y2="67.00" stroke="#ffae1a" stroke-width="1.5"/>
<text x="408.60" y="70.90" class="t">porphyrin 4</text>
<path d="M191.80,505.60 C199.83,505.60 227.30,505.60 240.00,505.60 C252.70,505.60 263.33,505.60 268.00,505.60" fill="none" stroke="#ffae1a" stroke-width="1.80" stroke-dasharray="2.3 4.4" stroke-dashoffset="0.00"/>
<path d="M268.00,505.60 C270.00,505.58 277.62,505.52 280.00,505.50 C282.38,505.48 281.47,505.55 282.30,505.50 C283.13,505.45 284.22,505.38 285.00,505.20 C285.78,505.02 286.23,505.18 287.00,504.40 C287.77,503.62 288.78,502.15 289.60,500.50 C290.42,498.85 291.22,496.70 291.90,494.50 C292.58,492.30 293.17,490.02 293.70,487.30 C294.23,484.58 294.63,481.25 295.10,478.20 C295.57,475.15 296.08,472.03 296.50,469.00 C296.92,465.97 297.23,463.70 297.60,460.00 C297.97,456.30 298.30,451.60 298.70,446.80 C299.10,442.00 299.60,436.40 300.00,431.20 C300.40,426.00 300.73,420.80 301.10,415.60 C301.47,410.40 301.80,405.93 302.20,400.00 C302.60,394.07 303.07,386.60 303.50,380.00 C303.93,373.40 304.35,367.30 304.80,360.40 C305.25,353.50 305.77,344.83 306.20,338.60 C306.63,332.37 307.00,328.20 307.40,323.00 C307.80,317.80 308.12,311.82 308.60,307.40 C309.08,302.98 309.55,299.32 310.30,296.50 C311.05,293.68 312.27,290.50 313.10,290.50 C313.93,290.50 314.68,293.68 315.30,296.50 C315.92,299.32 316.22,302.98 316.80,307.40 C317.38,311.82 318.07,317.80 318.80,323.00 C319.53,328.20 320.45,333.72 321.20,338.60 C321.95,343.48 322.70,348.32 323.30,352.30 C323.90,356.28 324.25,358.72 324.80,362.50 C325.35,366.28 325.87,370.42 326.60,375.00 C327.33,379.58 328.37,385.92 329.20,390.00 C330.03,394.08 330.77,397.33 331.60,399.50 C332.43,401.67 333.30,402.75 334.20,403.00 C335.10,403.25 335.95,402.50 337.00,401.00 C338.05,399.50 339.25,396.83 340.50,394.00 C341.75,391.17 343.33,386.75 344.50,384.00 C345.67,381.25 346.62,379.00 347.50,377.50 C348.38,376.00 348.97,374.83 349.80,375.00 C350.63,375.17 351.55,376.33 352.50,378.50 C353.45,380.67 354.38,383.92 355.50,388.00 C356.62,392.08 358.03,398.00 359.20,403.00 C360.37,408.00 361.57,413.08 362.50,418.00 C363.43,422.92 363.90,427.75 364.80,432.50 C365.70,437.25 366.73,441.83 367.90,446.50 C369.07,451.17 370.50,456.08 371.80,460.50 C373.10,464.92 374.13,469.10 375.70,473.00 C377.27,476.90 379.25,480.90 381.20,483.90 C383.15,486.90 385.07,489.02 387.40,491.00 C389.73,492.98 392.60,494.50 395.20,495.80 C397.80,497.10 400.65,497.93 403.00,498.80 C405.35,499.67 407.08,500.23 409.30,501.00 C411.52,501.77 413.67,502.75 416.30,503.40 C418.93,504.05 421.88,504.48 425.10,504.90 C428.32,505.32 432.10,505.65 435.60,505.90 C439.10,506.15 442.00,506.27 446.10,506.40 C450.20,506.53 456.10,506.63 460.20,506.70 C464.30,506.77 468.95,506.78 470.70,506.80" fill="none" stroke="#00f0f0" stroke-width="1.80" stroke-dasharray="2.4 4.3" stroke-dashoffset="-4.30" clip-path="url(#c8)"/>
<path d="M268.00,505.60 C270.00,505.58 277.62,505.52 280.00,505.50 C282.38,505.48 281.47,505.55 282.30,505.50 C283.13,505.45 284.22,505.38 285.00,505.20 C285.78,505.02 286.23,505.18 287.00,504.40 C287.77,503.62 288.78,502.15 289.60,500.50 C290.42,498.85 291.22,496.70 291.90,494.50 C292.58,492.30 293.17,490.02 293.70,487.30 C294.23,484.58 294.63,481.25 295.10,478.20 C295.57,475.15 296.08,472.03 296.50,469.00 C296.92,465.97 297.23,463.70 297.60,460.00 C297.97,456.30 298.30,451.60 298.70,446.80 C299.10,442.00 299.60,436.40 300.00,431.20 C300.40,426.00 300.73,420.80 301.10,415.60 C301.47,410.40 301.80,405.93 302.20,400.00 C302.60,394.07 303.07,386.60 303.50,380.00 C303.93,373.40 304.35,367.30 304.80,360.40 C305.25,353.50 305.77,344.83 306.20,338.60 C306.63,332.37 307.00,328.20 307.40,323.00 C307.80,317.80 308.12,311.82 308.60,307.40 C309.08,302.98 309.55,299.32 310.30,296.50 C311.05,293.68 312.27,290.50 313.10,290.50 C313.93,290.50 314.68,293.68 315.30,296.50 C315.92,299.32 316.22,302.98 316.80,307.40 C317.38,311.82 318.07,317.80 318.80,323.00 C319.53,328.20 320.45,333.72 321.20,338.60 C321.95,343.48 322.70,348.32 323.30,352.30 C323.90,356.28 324.28,358.98 324.80,362.50 C325.32,366.02 325.75,369.50 326.40,373.40 C327.05,377.30 327.93,382.63 328.70,385.90 C329.47,389.17 330.22,391.18 331.00,393.00 C331.78,394.82 332.57,396.38 333.40,396.80 C334.23,397.22 335.13,396.38 336.00,395.50 C336.87,394.62 337.48,393.88 338.60,391.50 C339.72,389.12 341.37,383.95 342.70,381.20 C344.03,378.45 345.35,376.57 346.60,375.00 C347.85,373.43 349.02,371.28 350.20,371.80 C351.38,372.32 352.60,374.98 353.70,378.10 C354.80,381.22 355.77,386.08 356.80,390.50 C357.83,394.92 358.95,400.02 359.90,404.60 C360.85,409.18 361.68,413.35 362.50,418.00 C363.32,422.65 363.90,427.75 364.80,432.50 C365.70,437.25 366.73,441.83 367.90,446.50 C369.07,451.17 370.50,456.08 371.80,460.50 C373.10,464.92 374.13,469.10 375.70,473.00 C377.27,476.90 379.25,480.90 381.20,483.90 C383.15,486.90 385.07,489.02 387.40,491.00 C389.73,492.98 392.60,494.50 395.20,495.80 C397.80,497.10 400.65,497.93 403.00,498.80 C405.35,499.67 407.08,500.23 409.30,501.00 C411.52,501.77 413.67,502.75 416.30,503.40 C418.93,504.05 421.88,504.48 425.10,504.90 C428.32,505.32 432.10,505.65 435.60,505.90 C439.10,506.15 442.00,506.27 446.10,506.40 C450.20,506.53 456.10,506.63 460.20,506.70 C464.30,506.77 468.95,506.78 470.70,506.80" fill="none" stroke="#ff2222" stroke-width="1.80" stroke-dasharray="2.0 4.7" stroke-dashoffset="-0.50" clip-path="url(#c9)"/>
<path d="M268.00,505.60 C270.00,505.58 277.62,505.52 280.00,505.50 C282.38,505.48 281.47,505.55 282.30,505.50 C283.13,505.45 284.22,505.38 285.00,505.20 C285.78,505.02 286.23,505.18 287.00,504.40 C287.77,503.62 288.78,502.15 289.60,500.50 C290.42,498.85 291.22,496.70 291.90,494.50 C292.58,492.30 293.17,490.02 293.70,487.30 C294.23,484.58 294.63,481.25 295.10,478.20 C295.57,475.15 296.08,472.03 296.50,469.00 C296.92,465.97 297.23,463.70 297.60,460.00 C297.97,456.30 298.30,451.60 298.70,446.80 C299.10,442.00 299.60,436.40 300.00,431.20 C300.40,426.00 300.73,420.80 301.10,415.60 C301.47,410.40 301.80,405.93 302.20,400.00 C302.60,394.07 303.07,386.60 303.50,380.00 C303.93,373.40 304.35,367.30 304.80,360.40 C305.25,353.50 305.77,344.83 306.20,338.60 C306.63,332.37 307.00,328.20 307.40,323.00 C307.80,317.80 308.12,311.82 308.60,307.40 C309.08,302.98 309.55,299.32 310.30,296.50 C311.05,293.68 312.27,290.50 313.10,290.50 C313.93,290.50 314.68,293.68 315.30,296.50 C315.92,299.32 316.22,302.98 316.80,307.40 C317.38,311.82 318.07,317.80 318.80,323.00 C319.53,328.20 320.45,333.72 321.20,338.60 C321.95,343.48 322.70,348.32 323.30,352.30 C323.90,356.28 324.28,358.98 324.80,362.50 C325.32,366.02 325.75,369.50 326.40,373.40 C327.05,377.30 327.93,382.63 328.70,385.90 C329.47,389.17 330.22,391.18 331.00,393.00 C331.78,394.82 332.57,396.38 333.40,396.80 C334.23,397.22 335.13,396.38 336.00,395.50 C336.87,394.62 337.48,393.88 338.60,391.50 C339.72,389.12 341.37,383.95 342.70,381.20 C344.03,378.45 345.35,376.57 346.60,375.00 C347.85,373.43 349.02,371.28 350.20,371.80 C351.38,372.32 352.60,374.98 353.70,378.10 C354.80,381.22 355.77,386.08 356.80,390.50 C357.83,394.92 358.95,400.02 359.90,404.60 C360.85,409.18 361.68,413.35 362.50,418.00 C363.32,422.65 363.90,427.75 364.80,432.50 C365.70,437.25 366.73,441.83 367.90,446.50 C369.07,451.17 370.50,456.08 371.80,460.50 C373.10,464.92 374.13,469.10 375.70,473.00 C377.27,476.90 379.25,480.90 381.20,483.90 C383.15,486.90 385.07,489.02 387.40,491.00 C389.73,492.98 392.60,494.50 395.20,495.80 C397.80,497.10 400.65,497.93 403.00,498.80 C405.35,499.67 407.08,500.23 409.30,501.00 C411.52,501.77 413.67,502.75 416.30,503.40 C418.93,504.05 421.88,504.48 425.10,504.90 C428.32,505.32 432.10,505.65 435.60,505.90 C439.10,506.15 442.00,506.27 446.10,506.40 C450.20,506.53 456.10,506.63 460.20,506.70 C464.30,506.77 468.95,506.78 470.70,506.80" fill="none" stroke="#2b2bff" stroke-width="1.80" stroke-dasharray="2.9 3.8" stroke-dashoffset="0.00" clip-path="url(#c10)"/>
<path d="M268.00,505.60 C270.00,505.58 277.62,505.52 280.00,505.50 C282.38,505.48 281.47,505.55 282.30,505.50 C283.13,505.45 284.22,505.38 285.00,505.20 C285.78,505.02 286.23,505.18 287.00,504.40 C287.77,503.62 288.78,502.15 289.60,500.50 C290.42,498.85 291.22,496.70 291.90,494.50 C292.58,492.30 293.17,490.02 293.70,487.30 C294.23,484.58 294.63,481.25 295.10,478.20 C295.57,475.15 296.08,472.03 296.50,469.00 C296.92,465.97 297.23,463.70 297.60,460.00 C297.97,456.30 298.30,451.60 298.70,446.80 C299.10,442.00 299.60,436.40 300.00,431.20 C300.40,426.00 300.73,420.80 301.10,415.60 C301.47,410.40 301.80,405.93 302.20,400.00 C302.60,394.07 303.07,386.60 303.50,380.00 C303.93,373.40 304.35,367.30 304.80,360.40 C305.25,353.50 305.77,344.83 306.20,338.60 C306.63,332.37 307.00,328.20 307.40,323.00 C307.80,317.80 308.12,311.82 308.60,307.40 C309.08,302.98 309.55,299.32 310.30,296.50 C311.05,293.68 312.27,290.50 313.10,290.50 C313.93,290.50 314.68,293.68 315.30,296.50 C315.92,299.32 316.22,302.98 316.80,307.40 C317.38,311.82 318.07,317.80 318.80,323.00 C319.53,328.20 320.45,333.72 321.20,338.60 C321.95,343.48 322.70,348.32 323.30,352.30 C323.90,356.28 324.28,358.98 324.80,362.50 C325.32,366.02 325.75,369.50 326.40,373.40 C327.05,377.30 327.93,382.63 328.70,385.90 C329.47,389.17 330.22,391.18 331.00,393.00 C331.78,394.82 332.57,396.38 333.40,396.80 C334.23,397.22 335.13,396.38 336.00,395.50 C336.87,394.62 337.48,393.88 338.60,391.50 C339.72,389.12 341.37,383.95 342.70,381.20 C344.03,378.45 345.35,376.57 346.60,375.00 C347.85,373.43 349.02,371.28 350.20,371.80 C351.38,372.32 352.60,374.98 353.70,378.10 C354.80,381.22 355.77,386.08 356.80,390.50 C357.83,394.92 358.95,400.02 359.90,404.60 C360.85,409.18 361.68,413.35 362.50,418.00 C363.32,422.65 363.90,427.75 364.80,432.50 C365.70,437.25 366.73,441.83 367.90,446.50 C369.07,451.17 370.50,456.08 371.80,460.50 C373.10,464.92 374.13,469.10 375.70,473.00 C377.27,476.90 379.25,480.90 381.20,483.90 C383.15,486.90 385.07,489.02 387.40,491.00 C389.73,492.98 392.60,494.50 395.20,495.80 C397.80,497.10 400.65,497.93 403.00,498.80 C405.35,499.67 407.08,500.23 409.30,501.00 C411.52,501.77 413.67,502.75 416.30,503.40 C418.93,504.05 421.88,504.48 425.10,504.90 C428.32,505.32 432.10,505.65 435.60,505.90 C439.10,506.15 442.00,506.27 446.10,506.40 C450.20,506.53 456.10,506.63 460.20,506.70 C464.30,506.77 468.95,506.78 470.70,506.80" fill="none" stroke="#ffae1a" stroke-width="1.80" stroke-dasharray="1.1 5.6" stroke-dashoffset="-2.50" clip-path="url(#c11)"/>
<path d="M268.00,505.60 C270.00,505.58 277.62,505.52 280.00,505.50 C282.38,505.48 281.47,505.55 282.30,505.50 C283.13,505.45 284.22,505.38 285.00,505.20 C285.78,505.02 286.23,505.18 287.00,504.40 C287.77,503.62 288.78,502.15 289.60,500.50 C290.42,498.85 291.22,496.70 291.90,494.50 C292.58,492.30 293.17,490.02 293.70,487.30 C294.23,484.58 294.63,481.25 295.10,478.20 C295.57,475.15 296.08,472.03 296.50,469.00 C296.92,465.97 297.23,463.70 297.60,460.00 C297.97,456.30 298.30,451.60 298.70,446.80 C299.10,442.00 299.60,436.40 300.00,431.20 C300.40,426.00 300.73,420.80 301.10,415.60 C301.47,410.40 301.80,405.93 302.20,400.00 C302.60,394.07 303.07,386.60 303.50,380.00 C303.93,373.40 304.35,367.30 304.80,360.40 C305.25,353.50 305.77,344.83 306.20,338.60 C306.63,332.37 307.00,328.20 307.40,323.00 C307.80,317.80 308.12,311.82 308.60,307.40 C309.08,302.98 309.55,299.32 310.30,296.50 C311.05,293.68 312.27,290.50 313.10,290.50 C313.93,290.50 314.68,293.68 315.30,296.50 C315.92,299.32 316.22,302.98 316.80,307.40 C317.38,311.82 318.07,317.80 318.80,323.00 C319.53,328.20 320.45,333.72 321.20,338.60 C321.95,343.48 322.70,348.32 323.30,352.30 C323.90,356.28 324.25,358.72 324.80,362.50 C325.35,366.28 325.87,370.42 326.60,375.00 C327.33,379.58 328.37,385.92 329.20,390.00 C330.03,394.08 330.77,397.33 331.60,399.50 C332.43,401.67 333.30,402.75 334.20,403.00 C335.10,403.25 335.95,402.50 337.00,401.00 C338.05,399.50 339.25,396.83 340.50,394.00 C341.75,391.17 343.33,386.75 344.50,384.00 C345.67,381.25 346.62,379.00 347.50,377.50 C348.38,376.00 348.97,374.83 349.80,375.00 C350.63,375.17 351.55,376.33 352.50,378.50 C353.45,380.67 354.38,383.92 355.50,388.00 C356.62,392.08 358.03,398.00 359.20,403.00 C360.37,408.00 361.57,413.08 362.50,418.00 C363.43,422.92 363.90,427.75 364.80,432.50 C365.70,437.25 366.73,441.83 367.90,446.50 C369.07,451.17 370.50,456.08 371.80,460.50 C373.10,464.92 374.13,469.10 375.70,473.00 C377.27,476.90 379.25,480.90 381.20,483.90 C383.15,486.90 385.07,489.02 387.40,491.00 C389.73,492.98 392.60,494.50 395.20,495.80 C397.80,497.10 400.65,497.93 403.00,498.80 C405.35,499.67 407.08,500.23 409.30,501.00 C411.52,501.77 413.67,502.75 416.30,503.40 C418.93,504.05 421.88,504.48 425.10,504.90 C428.32,505.32 432.10,505.65 435.60,505.90 C439.10,506.15 442.00,506.27 446.10,506.40 C450.20,506.53 456.10,506.63 460.20,506.70 C464.30,506.77 468.95,506.78 470.70,506.80" fill="none" stroke="#00f0f0" stroke-width="1.80" stroke-dasharray="4.6 2.0" stroke-dashoffset="0.00" clip-path="url(#c12)"/>
<path d="M268.00,505.60 C270.00,505.58 277.62,505.52 280.00,505.50 C282.38,505.48 281.47,505.55 282.30,505.50 C283.13,505.45 284.22,505.38 285.00,505.20 C285.78,505.02 286.23,505.18 287.00,504.40 C287.77,503.62 288.78,502.15 289.60,500.50 C290.42,498.85 291.22,496.70 291.90,494.50 C292.58,492.30 293.17,490.02 293.70,487.30 C294.23,484.58 294.63,481.25 295.10,478.20 C295.57,475.15 296.08,472.03 296.50,469.00 C296.92,465.97 297.23,463.70 297.60,460.00 C297.97,456.30 298.30,451.60 298.70,446.80 C299.10,442.00 299.60,436.40 300.00,431.20 C300.40,426.00 300.73,420.80 301.10,415.60 C301.47,410.40 301.80,405.93 302.20,400.00 C302.60,394.07 303.07,386.60 303.50,380.00 C303.93,373.40 304.35,367.30 304.80,360.40 C305.25,353.50 305.77,344.83 306.20,338.60 C306.63,332.37 307.00,328.20 307.40,323.00 C307.80,317.80 308.12,311.82 308.60,307.40 C309.08,302.98 309.55,299.32 310.30,296.50 C311.05,293.68 312.27,290.50 313.10,290.50 C313.93,290.50 314.68,293.68 315.30,296.50 C315.92,299.32 316.22,302.98 316.80,307.40 C317.38,311.82 318.07,317.80 318.80,323.00 C319.53,328.20 320.45,333.72 321.20,338.60 C321.95,343.48 322.70,348.32 323.30,352.30 C323.90,356.28 324.28,358.98 324.80,362.50 C325.32,366.02 325.75,369.50 326.40,373.40 C327.05,377.30 327.93,382.63 328.70,385.90 C329.47,389.17 330.22,391.18 331.00,393.00 C331.78,394.82 332.57,396.38 333.40,396.80 C334.23,397.22 335.13,396.38 336.00,395.50 C336.87,394.62 337.48,393.88 338.60,391.50 C339.72,389.12 341.37,383.95 342.70,381.20 C344.03,378.45 345.35,376.57 346.60,375.00 C347.85,373.43 349.02,371.28 350.20,371.80 C351.38,372.32 352.60,374.98 353.70,378.10 C354.80,381.22 355.77,386.08 356.80,390.50 C357.83,394.92 358.95,400.02 359.90,404.60 C360.85,409.18 361.68,413.35 362.50,418.00 C363.32,422.65 363.90,427.75 364.80,432.50 C365.70,437.25 366.73,441.83 367.90,446.50 C369.07,451.17 370.50,456.08 371.80,460.50 C373.10,464.92 374.13,469.10 375.70,473.00 C377.27,476.90 379.25,480.90 381.20,483.90 C383.15,486.90 385.07,489.02 387.40,491.00 C389.73,492.98 392.60,494.50 395.20,495.80 C397.80,497.10 400.65,497.93 403.00,498.80 C405.35,499.67 407.08,500.23 409.30,501.00 C411.52,501.77 413.67,502.75 416.30,503.40 C418.93,504.05 421.88,504.48 425.10,504.90 C428.32,505.32 432.10,505.65 435.60,505.90 C439.10,506.15 442.00,506.27 446.10,506.40 C450.20,506.53 456.10,506.63 460.20,506.70 C464.30,506.77 468.95,506.78 470.70,506.80" fill="none" stroke="#2b2bff" stroke-width="1.80" stroke-dasharray="1.8 4.8" stroke-dashoffset="-1.40" clip-path="url(#c13)"/>
<path d="M268.00,505.60 C270.00,505.58 277.62,505.52 280.00,505.50 C282.38,505.48 281.47,505.55 282.30,505.50 C283.13,505.45 284.22,505.38 285.00,505.20 C285.78,505.02 286.23,505.18 287.00,504.40 C287.77,503.62 288.78,502.15 289.60,500.50 C290.42,498.85 291.22,496.70 291.90,494.50 C292.58,492.30 293.17,490.02 293.70,487.30 C294.23,484.58 294.63,481.25 295.10,478.20 C295.57,475.15 296.08,472.03 296.50,469.00 C296.92,465.97 297.23,463.70 297.60,460.00 C297.97,456.30 298.30,451.60 298.70,446.80 C299.10,442.00 299.60,436.40 300.00,431.20 C300.40,426.00 300.73,420.80 301.10,415.60 C301.47,410.40 301.80,405.93 302.20,400.00 C302.60,394.07 303.07,386.60 303.50,380.00 C303.93,373.40 304.35,367.30 304.80,360.40 C305.25,353.50 305.77,344.83 306.20,338.60 C306.63,332.37 307.00,328.20 307.40,323.00 C307.80,317.80 308.12,311.82 308.60,307.40 C309.08,302.98 309.55,299.32 310.30,296.50 C311.05,293.68 312.27,290.50 313.10,290.50 C313.93,290.50 314.68,293.68 315.30,296.50 C315.92,299.32 316.22,302.98 316.80,307.40 C317.38,311.82 318.07,317.80 318.80,323.00 C319.53,328.20 320.45,333.72 321.20,338.60 C321.95,343.48 322.70,348.32 323.30,352.30 C323.90,356.28 324.28,358.98 324.80,362.50 C325.32,366.02 325.75,369.50 326.40,373.40 C327.05,377.30 327.93,382.63 328.70,385.90 C329.47,389.17 330.22,391.18 331.00,393.00 C331.78,394.82 332.57,396.38 333.40,396.80 C334.23,397.22 335.13,396.38 336.00,395.50 C336.87,394.62 337.48,393.88 338.60,391.50 C339.72,389.12 341.37,383.95 342.70,381.20 C344.03,378.45 345.35,376.57 346.60,375.00 C347.85,373.43 349.02,371.28 350.20,371.80 C351.38,372.32 352.60,374.98 353.70,378.10 C354.80,381.22 355.77,386.08 356.80,390.50 C357.83,394.92 358.95,400.02 359.90,404.60 C360.85,409.18 361.68,413.35 362.50,418.00 C363.32,422.65 363.90,427.75 364.80,432.50 C365.70,437.25 366.73,441.83 367.90,446.50 C369.07,451.17 370.50,456.08 371.80,460.50 C373.10,464.92 374.13,469.10 375.70,473.00 C377.27,476.90 379.25,480.90 381.20,483.90 C383.15,486.90 385.07,489.02 387.40,491.00 C389.73,492.98 392.60,494.50 395.20,495.80 C397.80,497.10 400.65,497.93 403.00,498.80 C405.35,499.67 407.08,500.23 409.30,501.00 C411.52,501.77 413.67,502.75 416.30,503.40 C418.93,504.05 421.88,504.48 425.10,504.90 C428.32,505.32 432.10,505.65 435.60,505.90 C439.10,506.15 442.00,506.27 446.10,506.40 C450.20,506.53 456.10,506.63 460.20,506.70 C464.30,506.77 468.95,506.78 470.70,506.80" fill="none" stroke="#ffae1a" stroke-width="1.80" stroke-dasharray="1.2 5.4" stroke-dashoffset="-2.70" clip-path="url(#c14)"/>
<path d="M41.30,452.00 C42.23,454.00 45.18,460.43 46.90,464.00 C48.62,467.57 50.17,470.53 51.60,473.40 C53.03,476.27 54.33,479.57 55.50,481.20 C56.67,482.83 57.30,483.60 58.60,483.20 C59.90,482.80 61.62,480.95 63.30,478.80 C64.98,476.65 66.88,473.02 68.70,470.30 C70.52,467.58 72.77,463.28 74.20,462.50 C75.63,461.72 76.18,464.43 77.30,465.60 C78.42,466.77 79.47,469.23 80.90,469.50 C82.33,469.77 84.55,468.13 85.90,467.20 C87.25,466.27 87.43,465.48 89.00,463.90 C90.57,462.32 93.22,459.90 95.30,457.70 C97.38,455.50 99.68,452.52 101.50,450.70 C103.32,448.88 104.48,447.88 106.20,446.80 C107.92,445.72 110.13,444.12 111.80,444.20 C113.47,444.28 114.68,445.62 116.20,447.30 C117.72,448.98 119.33,451.57 120.90,454.30 C122.47,457.03 124.03,460.32 125.60,463.70 C127.17,467.08 128.73,471.23 130.30,474.60 C131.87,477.97 133.18,480.92 135.00,483.90 C136.82,486.88 138.87,490.47 141.20,492.50 C143.53,494.53 146.67,496.10 149.00,496.10 C151.33,496.10 153.12,494.78 155.20,492.50 C157.28,490.22 159.68,485.90 161.50,482.40 C163.32,478.90 164.80,476.70 166.10,471.50 C167.40,466.30 168.55,457.78 169.30,451.20 C170.05,444.62 170.27,437.50 170.60,432.00 C170.93,426.50 170.95,425.37 171.30,418.20 C171.65,411.03 172.28,398.37 172.70,389.00 C173.12,379.63 173.47,369.47 173.80,362.00 C174.13,354.53 174.40,349.60 174.70,344.20 C175.00,338.80 175.30,334.47 175.60,329.60 C175.90,324.73 176.17,319.85 176.50,315.00 C176.83,310.15 177.25,304.08 177.60,300.50 C177.95,296.92 178.23,295.32 178.60,293.50 C178.97,291.68 179.40,289.60 179.80,289.60 C180.20,289.60 180.68,291.68 181.00,293.50 C181.32,295.32 181.47,296.92 181.70,300.50 C181.93,304.08 182.15,310.15 182.40,315.00 C182.65,319.85 182.95,324.73 183.20,329.60 C183.45,334.47 183.70,338.80 183.90,344.20 C184.10,349.60 184.20,354.53 184.40,362.00 C184.60,369.47 184.75,379.63 185.10,389.00 C185.45,398.37 186.08,409.95 186.50,418.20 C186.92,426.45 187.43,432.63 187.60,438.50 C187.77,444.37 187.32,447.02 187.50,453.40 C187.68,459.78 188.13,470.30 188.70,476.80 C189.27,483.30 190.00,488.37 190.90,492.40 C191.80,496.43 192.80,499.05 194.10,501.00 C195.40,502.95 196.22,503.45 198.70,504.10 C201.18,504.75 203.78,504.82 209.00,504.90 C214.22,504.98 224.83,504.66 230.00,504.60 C235.17,504.54 236.25,504.69 240.00,504.55 C243.75,504.41 249.50,504.08 252.50,503.75 C255.50,503.42 256.42,503.02 258.00,502.55 C259.58,502.08 260.67,501.48 262.00,500.95 C263.33,500.42 264.83,499.75 266.00,499.35 C267.17,498.95 268.08,498.73 269.00,498.55 C269.92,498.37 270.67,498.23 271.50,498.25 C272.33,498.27 273.08,498.33 274.00,498.65 C274.92,498.97 276.00,499.60 277.00,500.15 C278.00,500.70 279.00,501.38 280.00,501.95 C281.00,502.52 282.00,503.15 283.00,503.55 C284.00,503.95 284.83,504.30 286.00,504.35 C287.17,504.40 288.57,504.12 290.00,503.85 C291.43,503.58 293.18,503.10 294.60,502.75 C296.02,502.40 297.20,501.97 298.50,501.75 C299.80,501.53 301.07,501.38 302.40,501.45 C303.73,501.52 305.20,501.80 306.50,502.15 C307.80,502.50 308.78,503.07 310.20,503.55 C311.62,504.03 313.37,504.65 315.00,505.05 C316.63,505.45 315.83,505.69 320.00,505.95 C324.17,506.21 331.67,506.41 340.00,506.60 C348.33,506.79 356.67,506.98 370.00,507.10 C383.33,507.22 405.67,507.25 420.00,507.30 C434.33,507.35 450.00,507.38 456.00,507.40" fill="none" stroke="#ff2222" stroke-width="1.50" stroke-linejoin="round"/>
<path d="M41.30,434.00 C41.98,435.62 43.95,440.53 45.40,443.70 C46.85,446.87 48.58,451.05 50.00,453.00 C51.42,454.95 52.33,455.65 53.90,455.40 C55.47,455.15 57.70,453.72 59.40,451.50 C61.10,449.28 62.55,445.75 64.10,442.10 C65.65,438.45 67.20,433.40 68.70,429.60 C70.20,425.80 71.63,423.08 73.10,419.30 C74.57,415.52 75.80,411.38 77.50,406.90 C79.20,402.42 81.48,397.25 83.30,392.40 C85.12,387.55 86.95,382.42 88.40,377.80 C89.85,373.18 90.92,368.82 92.00,364.70 C93.08,360.58 93.93,356.37 94.90,353.10 C95.87,349.83 96.78,347.17 97.80,345.10 C98.82,343.03 100.00,342.22 101.00,340.70 C102.00,339.18 102.90,338.08 103.80,336.00 C104.70,333.92 105.45,330.93 106.40,328.20 C107.35,325.47 108.53,321.50 109.50,319.60 C110.47,317.70 111.15,317.00 112.20,316.80 C113.25,316.60 114.30,317.48 115.80,318.40 C117.30,319.32 119.78,322.15 121.20,322.30 C122.62,322.45 123.18,320.70 124.30,319.30 C125.42,317.90 126.85,314.10 127.90,313.90 C128.95,313.70 129.97,316.10 130.60,318.10 C131.23,320.10 131.38,321.48 131.70,325.90 C132.02,330.32 132.22,338.88 132.50,344.60 C132.78,350.32 133.07,355.03 133.40,360.20 C133.73,365.37 134.07,369.13 134.50,375.60 C134.93,382.07 135.48,391.20 136.00,399.00 C136.52,406.80 137.13,415.00 137.60,422.40 C138.07,429.80 138.20,437.30 138.80,443.40 C139.40,449.50 140.15,454.07 141.20,459.00 C142.25,463.93 143.67,469.10 145.10,473.00 C146.53,476.90 148.37,480.27 149.80,482.40 C151.23,484.53 152.02,485.93 153.70,485.80 C155.38,485.67 157.95,483.87 159.90,481.60 C161.85,479.33 163.83,477.27 165.40,472.20 C166.97,467.13 168.42,457.90 169.30,451.20 C170.18,444.50 170.37,437.50 170.70,432.00 C171.03,426.50 170.97,425.37 171.30,418.20 C171.63,411.03 172.28,398.37 172.70,389.00 C173.12,379.63 173.47,369.47 173.80,362.00 C174.13,354.53 174.40,349.60 174.70,344.20 C175.00,338.80 175.30,334.47 175.60,329.60 C175.90,324.73 176.17,319.85 176.50,315.00 C176.83,310.15 177.25,304.08 177.60,300.50 C177.95,296.92 178.23,295.32 178.60,293.50 C178.97,291.68 179.40,289.60 179.80,289.60 C180.20,289.60 180.68,291.68 181.00,293.50 C181.32,295.32 181.47,296.92 181.70,300.50 C181.93,304.08 182.15,310.15 182.40,315.00 C182.65,319.85 182.95,324.73 183.20,329.60 C183.45,334.47 183.70,338.80 183.90,344.20 C184.10,349.60 184.20,354.53 184.40,362.00 C184.60,369.47 184.75,379.63 185.10,389.00 C185.45,398.37 186.08,409.95 186.50,418.20 C186.92,426.45 187.28,432.63 187.60,438.50 C187.92,444.37 188.07,447.02 188.40,453.40 C188.73,459.78 189.03,470.30 189.60,476.80 C190.17,483.30 190.90,488.37 191.80,492.40 C192.70,496.43 193.70,499.05 195.00,501.00 C196.30,502.95 197.27,503.45 199.60,504.10 C201.93,504.75 203.93,504.82 209.00,504.90 C214.07,504.98 224.83,504.66 230.00,504.60 C235.17,504.54 236.25,504.69 240.00,504.55 C243.75,504.41 249.50,504.08 252.50,503.75 C255.50,503.42 256.42,503.02 258.00,502.55 C259.58,502.08 260.67,501.48 262.00,500.95 C263.33,500.42 264.83,499.75 266.00,499.35 C267.17,498.95 268.08,498.73 269.00,498.55 C269.92,498.37 270.67,498.23 271.50,498.25 C272.33,498.27 273.08,498.33 274.00,498.65 C274.92,498.97 276.00,499.60 277.00,500.15 C278.00,500.70 279.00,501.38 280.00,501.95 C281.00,502.52 282.00,503.15 283.00,503.55 C284.00,503.95 284.83,504.30 286.00,504.35 C287.17,504.40 288.57,504.12 290.00,503.85 C291.43,503.58 293.18,503.10 294.60,502.75 C296.02,502.40 297.20,501.97 298.50,501.75 C299.80,501.53 301.07,501.38 302.40,501.45 C303.73,501.52 305.20,501.80 306.50,502.15 C307.80,502.50 308.78,503.07 310.20,503.55 C311.62,504.03 313.37,504.65 315.00,505.05 C316.63,505.45 315.83,505.69 320.00,505.95 C324.17,506.21 331.67,506.41 340.00,506.60 C348.33,506.79 356.67,506.98 370.00,507.10 C383.33,507.22 405.67,507.25 420.00,507.30 C434.33,507.35 450.00,507.38 456.00,507.40" fill="none" stroke="#ffae1a" stroke-width="1.50" stroke-linejoin="round"/>
<path d="M41.30,485.50 C41.98,486.22 43.82,488.70 45.40,489.80 C46.98,490.90 48.98,492.10 50.80,492.10 C52.62,492.10 54.35,491.23 56.30,489.80 C58.25,488.37 60.43,485.97 62.50,483.50 C64.57,481.03 66.62,477.98 68.70,475.00 C70.78,472.02 72.92,467.82 75.00,465.60 C77.08,463.38 79.38,461.97 81.20,461.70 C83.02,461.43 84.33,462.97 85.90,464.00 C87.47,465.03 89.03,466.90 90.60,467.90 C92.17,468.90 93.48,469.92 95.30,470.00 C97.12,470.08 99.43,469.52 101.50,468.40 C103.57,467.28 105.28,465.67 107.70,463.30 C110.12,460.93 113.53,456.62 116.00,454.20 C118.47,451.78 120.25,449.87 122.50,448.80 C124.75,447.73 127.42,447.53 129.50,447.80 C131.58,448.07 133.32,448.67 135.00,450.40 C136.68,452.13 138.05,454.95 139.60,458.20 C141.15,461.45 142.73,466.27 144.30,469.90 C145.87,473.53 147.38,477.78 149.00,480.00 C150.62,482.22 152.18,483.45 154.00,483.20 C155.82,482.95 158.13,480.72 159.90,478.50 C161.67,476.28 163.17,473.67 164.60,469.90 C166.03,466.13 167.55,461.62 168.50,455.90 C169.45,450.18 169.78,441.92 170.30,435.60 C170.82,429.28 171.02,425.77 171.60,418.00 C172.18,410.23 173.25,398.33 173.80,389.00 C174.35,379.67 174.57,369.47 174.90,362.00 C175.23,354.53 175.50,349.60 175.80,344.20 C176.10,338.80 176.40,334.47 176.70,329.60 C177.00,324.73 177.27,319.85 177.60,315.00 C177.93,310.15 178.35,304.08 178.70,300.50 C179.05,296.92 179.33,295.32 179.70,293.50 C180.07,291.68 180.50,289.60 180.90,289.60 C181.30,289.60 181.78,291.68 182.10,293.50 C182.42,295.32 182.57,296.92 182.80,300.50 C183.03,304.08 183.25,310.15 183.50,315.00 C183.75,319.85 184.05,324.73 184.30,329.60 C184.55,334.47 184.80,338.80 185.00,344.20 C185.20,349.60 185.28,354.53 185.50,362.00 C185.72,369.47 185.93,379.63 186.30,389.00 C186.67,398.37 187.23,409.95 187.70,418.20 C188.17,426.45 188.67,432.63 189.10,438.50 C189.53,444.37 189.85,447.02 190.30,453.40 C190.75,459.78 191.15,470.30 191.80,476.80 C192.45,483.30 193.15,488.37 194.20,492.40 C195.25,496.43 196.42,499.13 198.10,501.00 C199.78,502.87 201.48,503.05 204.30,503.60 C207.12,504.15 210.72,504.17 215.00,504.30 C219.28,504.43 225.83,504.42 230.00,504.40 C234.17,504.38 236.25,504.37 240.00,504.20 C243.75,504.03 249.50,503.73 252.50,503.40 C255.50,503.07 256.42,502.67 258.00,502.20 C259.58,501.73 260.67,501.13 262.00,500.60 C263.33,500.07 264.83,499.40 266.00,499.00 C267.17,498.60 268.08,498.38 269.00,498.20 C269.92,498.02 270.67,497.88 271.50,497.90 C272.33,497.92 273.08,497.98 274.00,498.30 C274.92,498.62 276.00,499.25 277.00,499.80 C278.00,500.35 279.00,501.03 280.00,501.60 C281.00,502.17 282.00,502.80 283.00,503.20 C284.00,503.60 284.83,503.95 286.00,504.00 C287.17,504.05 288.57,503.77 290.00,503.50 C291.43,503.23 293.18,502.75 294.60,502.40 C296.02,502.05 297.20,501.62 298.50,501.40 C299.80,501.18 301.07,501.03 302.40,501.10 C303.73,501.17 305.20,501.45 306.50,501.80 C307.80,502.15 308.78,502.72 310.20,503.20 C311.62,503.68 313.37,504.30 315.00,504.70 C316.63,505.10 315.83,505.28 320.00,505.60 C324.17,505.92 331.67,506.35 340.00,506.60 C348.33,506.85 356.67,506.98 370.00,507.10 C383.33,507.22 405.67,507.25 420.00,507.30 C434.33,507.35 450.00,507.38 456.00,507.40" fill="none" stroke="#2b2bff" stroke-width="1.50" stroke-linejoin="round"/>
<path d="M41.30,472.90 C41.98,473.48 44.07,475.53 45.40,476.40 C46.73,477.27 47.75,478.22 49.30,478.10 C50.85,477.98 52.75,477.78 54.70,475.70 C56.65,473.62 59.43,468.33 61.00,465.60 C62.57,462.87 62.82,461.92 64.10,459.30 C65.38,456.68 67.15,453.03 68.70,449.90 C70.25,446.77 72.18,442.90 73.40,440.50 C74.62,438.10 75.05,437.22 76.00,435.50 C76.95,433.78 77.83,431.52 79.10,430.20 C80.37,428.88 81.95,427.75 83.60,427.60 C85.25,427.45 87.32,428.92 89.00,429.30 C90.68,429.68 92.13,429.45 93.70,429.90 C95.27,430.35 97.10,430.75 98.40,432.00 C99.70,433.25 100.47,435.45 101.50,437.40 C102.53,439.35 103.52,442.08 104.60,443.70 C105.68,445.32 106.83,447.10 108.00,447.10 C109.17,447.10 110.48,445.62 111.60,443.70 C112.72,441.78 113.62,438.12 114.70,435.60 C115.78,433.08 116.75,432.10 118.10,428.60 C119.45,425.10 121.23,419.80 122.80,414.60 C124.37,409.40 125.95,402.33 127.50,397.40 C129.05,392.47 130.80,388.25 132.10,385.00 C133.40,381.75 134.25,379.73 135.30,377.90 C136.35,376.07 137.37,374.85 138.40,374.00 C139.43,373.15 140.33,372.67 141.50,372.80 C142.67,372.93 144.23,373.30 145.40,374.80 C146.57,376.30 147.65,379.60 148.50,381.80 C149.35,384.00 149.85,385.40 150.50,388.00 C151.15,390.60 151.45,393.73 152.40,397.40 C153.35,401.07 155.18,406.23 156.20,410.00 C157.22,413.77 157.60,415.42 158.50,420.00 C159.40,424.58 160.45,432.82 161.60,437.50 C162.75,442.18 164.25,445.95 165.40,448.10 C166.55,450.25 167.73,451.97 168.50,450.40 C169.27,448.83 169.45,443.77 170.00,438.70 C170.55,433.63 171.17,428.28 171.80,420.00 C172.43,411.72 173.28,398.67 173.80,389.00 C174.32,379.33 174.57,369.47 174.90,362.00 C175.23,354.53 175.50,349.60 175.80,344.20 C176.10,338.80 176.40,334.47 176.70,329.60 C177.00,324.73 177.27,319.85 177.60,315.00 C177.93,310.15 178.35,304.08 178.70,300.50 C179.05,296.92 179.33,295.32 179.70,293.50 C180.07,291.68 180.50,289.60 180.90,289.60 C181.30,289.60 181.78,291.68 182.10,293.50 C182.42,295.32 182.57,296.92 182.80,300.50 C183.03,304.08 183.25,310.15 183.50,315.00 C183.75,319.85 184.05,324.73 184.30,329.60 C184.55,334.47 184.80,338.80 185.00,344.20 C185.20,349.60 185.28,354.53 185.50,362.00 C185.72,369.47 185.93,379.63 186.30,389.00 C186.67,398.37 187.23,409.95 187.70,418.20 C188.17,426.45 188.67,432.63 189.10,438.50 C189.53,444.37 189.85,447.02 190.30,453.40 C190.75,459.78 191.15,470.30 191.80,476.80 C192.45,483.30 193.15,488.37 194.20,492.40 C195.25,496.43 196.42,499.13 198.10,501.00 C199.78,502.87 201.48,503.05 204.30,503.60 C207.12,504.15 210.72,504.17 215.00,504.30 C219.28,504.43 225.83,504.42 230.00,504.40 C234.17,504.38 236.25,504.37 240.00,504.20 C243.75,504.03 249.50,503.73 252.50,503.40 C255.50,503.07 256.42,502.67 258.00,502.20 C259.58,501.73 260.67,501.13 262.00,500.60 C263.33,500.07 264.83,499.40 266.00,499.00 C267.17,498.60 268.08,498.38 269.00,498.20 C269.92,498.02 270.67,497.88 271.50,497.90 C272.33,497.92 273.08,497.98 274.00,498.30 C274.92,498.62 276.00,499.25 277.00,499.80 C278.00,500.35 279.00,501.03 280.00,501.60 C281.00,502.17 282.00,502.80 283.00,503.20 C284.00,503.60 284.83,503.95 286.00,504.00 C287.17,504.05 288.57,503.77 290.00,503.50 C291.43,503.23 293.18,502.75 294.60,502.40 C296.02,502.05 297.20,501.62 298.50,501.40 C299.80,501.18 301.07,501.03 302.40,501.10 C303.73,501.17 305.20,501.45 306.50,501.80 C307.80,502.15 308.78,502.72 310.20,503.20 C311.62,503.68 313.37,504.30 315.00,504.70 C316.63,505.10 315.83,505.28 320.00,505.60 C324.17,505.92 331.67,506.35 340.00,506.60 C348.33,506.85 356.67,506.98 370.00,507.10 C383.33,507.22 405.67,507.25 420.00,507.30 C434.33,507.35 450.00,507.38 456.00,507.40" fill="none" stroke="#00f0f0" stroke-width="1.50" stroke-linejoin="round"/>
<rect x="40.20" y="288.40" width="431.30" height="220.40" fill="none" stroke="#262626" stroke-width="1.3"/>
<line x1="79.20" y1="508.80" x2="79.20" y2="515.30" stroke="#262626" stroke-width="1.3"/>
<line x1="79.20" y1="288.40" x2="79.20" y2="284.60" stroke="#262626" stroke-width="1.3"/>
<text x="79.20" y="529.80" text-anchor="middle" class="t">300</text>
<line x1="154.36" y1="508.80" x2="154.36" y2="515.30" stroke="#262626" stroke-width="1.3"/>
<line x1="154.36" y1="288.40" x2="154.36" y2="284.60" stroke="#262626" stroke-width="1.3"/>
<text x="154.36" y="529.80" text-anchor="middle" class="t">400</text>
<line x1="229.52" y1="508.80" x2="229.52" y2="515.30" stroke="#262626" stroke-width="1.3"/>
<line x1="229.52" y1="288.40" x2="229.52" y2="284.60" stroke="#262626" stroke-width="1.3"/>
<text x="229.52" y="529.80" text-anchor="middle" class="t">500</text>
<line x1="304.68" y1="508.80" x2="304.68" y2="515.30" stroke="#262626" stroke-width="1.3"/>
<line x1="304.68" y1="288.40" x2="304.68" y2="284.60" stroke="#262626" stroke-width="1.3"/>
<text x="304.68" y="529.80" text-anchor="middle" class="t">600</text>
<line x1="379.84" y1="508.80" x2="379.84" y2="515.30" stroke="#262626" stroke-width="1.3"/>
<line x1="379.84" y1="288.40" x2="379.84" y2="284.60" stroke="#262626" stroke-width="1.3"/>
<text x="379.84" y="529.80" text-anchor="middle" class="t">700</text>
<line x1="455.00" y1="508.80" x2="455.00" y2="515.30" stroke="#262626" stroke-width="1.3"/>
<line x1="455.00" y1="288.40" x2="455.00" y2="284.60" stroke="#262626" stroke-width="1.3"/>
<text x="455.00" y="529.80" text-anchor="middle" class="t">800</text>
<line x1="33.30" y1="507.55" x2="40.20" y2="507.55" stroke="#262626" stroke-width="1.3"/>
<line x1="471.50" y1="507.55" x2="478.30" y2="507.55" stroke="#262626" stroke-width="1.3"/>
<text x="30.20" y="511.55" text-anchor="end" class="t">0</text>
<text x="482.50" y="511.55" text-anchor="start" class="t">0</text>
<line x1="33.30" y1="289.75" x2="40.20" y2="289.75" stroke="#262626" stroke-width="1.3"/>
<line x1="471.50" y1="289.75" x2="478.30" y2="289.75" stroke="#262626" stroke-width="1.3"/>
<text x="30.20" y="293.75" text-anchor="end" class="t">1</text>
<text x="482.50" y="293.75" text-anchor="start" class="t">1</text>
<text x="240.30" y="543.50" class="tt">λ (nm)</text>
<text transform="translate(12.60,398.35) rotate(-90)" text-anchor="middle" class="tt">Normalized absorption</text>
<text transform="translate(499.00,398.70) rotate(90)" text-anchor="middle" class="tt">Normalized emission</text>
<text x="51.20" y="307.50" class="tb">(b)</text>
<line x1="371.10" y1="310.30" x2="392.20" y2="310.30" stroke="#2b2bff" stroke-width="1.5"/>
<text x="397.20" y="314.20" class="t">porphyrin 5</text>
<line x1="371.10" y1="322.70" x2="392.20" y2="322.70" stroke="#ff2222" stroke-width="1.5"/>
<text x="397.20" y="326.60" class="t">porphyrin 6</text>
<line x1="371.10" y1="335.10" x2="392.20" y2="335.10" stroke="#00f0f0" stroke-width="1.5"/>
<text x="397.20" y="339.00" class="t">porphyrin 7</text>
<line x1="371.10" y1="347.50" x2="392.20" y2="347.50" stroke="#ffae1a" stroke-width="1.5"/>
<text x="397.20" y="351.40" class="t">porphyrin 8</text>
</svg>
</body></html>
